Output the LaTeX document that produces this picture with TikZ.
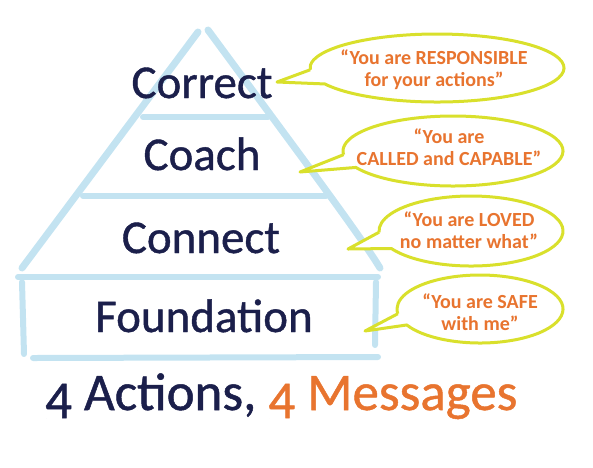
\documentclass[tikz,border=0pt]{standalone}
\usepackage{fontspec}
\setmainfont{Carlito}
\newfontfamily\labfont[FakeBold=0.9]{Carlito}
\newfontfamily\msgfont{Carlito Bold}
\newcommand{\lowfour}{\raisebox{-8pt}{4}}
\usetikzlibrary{calc}
\definecolor{pyr}{HTML}{C3E3F1}
\definecolor{navy}{HTML}{1B1F4B}
\definecolor{orng}{HTML}{E8742F}
\definecolor{bub}{HTML}{D9E02C}
\begin{document}
\begin{tikzpicture}[x=1pt,y=-1pt,
  pline/.style={draw=pyr,line width=7pt,line cap=round},
  dline/.style={draw=pyr,line width=6pt,line cap=round},
  actlabel/.style={text=navy,font=\labfont\fontsize{47}{50}\selectfont,anchor=base,inner sep=0pt},
  msg/.style={text=orng,font=\msgfont\fontsize{20}{22}\selectfont,align=center,inner sep=0pt},
  bubline/.style={draw=bub,line width=3pt,fill=white,line join=round}]
\useasboundingbox (0,0) rectangle (593,467);
% pyramid
\coordinate (apl) at (198,32);
\coordinate (apr) at (208,30);
\coordinate (bl) at (22,268);
\coordinate (br) at (380,268);
\draw[pline] (apl) -- (bl);
\draw[pline] (apr) .. controls (300,155) and (360,235) .. (br);
\coordinate (d1a) at (143,117); \coordinate (d1b) at (268,117);
\coordinate (d2a) at (83,196);  \coordinate (d2b) at (326,196);
\coordinate (d3a) at (18,277);  \coordinate (d3b) at (378,277);
\coordinate (fla) at (22,282);  \coordinate (flb) at (24,354);
\coordinate (fra) at (376,282); \coordinate (frb) at (375,345);
\coordinate (fba) at (33,358);  \coordinate (fbb) at (378,357);
\draw[dline] (d1a) -- (d1b);
\draw[dline] (d2a) -- (d2b);
\draw[dline] (d3a) -- (d3b);
\draw[dline] (fla) -- (flb);
\draw[dline] (fra) -- (frb);
\draw[dline] (fba) -- (fbb);
% action labels
\node[actlabel] (correct) at (202,98) {Correct};
\node[actlabel] (coach) at (202,170) {Coach};
\node[actlabel] (connect) at (201,253) {Connect};
\node[actlabel] (found) at (204,332) {Foundation};
% bubbles
\coordinate (t1) at (277,82);
\draw[bubline] ($(437,68)+(177:127 and 34)$) -- (t1) -- ($(437,68)+(152:127 and 34)$)
  arc[start angle=152,end angle=-183,x radius=127,y radius=34];
\coordinate (t2) at (300,172);
\draw[bubline] ($(453,151)+(174:110 and 35)$) -- (t2) -- ($(453,151)+(152:110 and 35)$)
  arc[start angle=152,end angle=-186,x radius=110,y radius=35];
\coordinate (t3) at (348,249);
\draw[bubline] ($(471,231)+(178:92 and 35)$) -- (t3) -- ($(471,231)+(150:92 and 35)$)
  arc[start angle=150,end angle=-182,x radius=92,y radius=35];
\coordinate (t4) at (365,331);
\draw[bubline] ($(480,309)+(172:83 and 34)$) -- (t4) -- ($(480,309)+(152:83 and 34)$)
  arc[start angle=152,end angle=-188,x radius=83,y radius=34];
\node[msg] (m1) at (434,70) {“You are RESPONSIBLE\\for your actions”};
\node[msg] (m2) at (449,147) {“You are\\CALLED and CAPABLE”};
\node[msg] (m3) at (469,230) {“You are LOVED\\no matter what”};
\node[msg] (m4) at (480,312) {“You are SAFE\\with me”};
% bottom title
\node[text=navy,font=\labfont\fontsize{53}{56}\selectfont,anchor=base west,inner sep=0pt] (title) at (45,410) {\lowfour{} Actions, \textcolor{orng}{\lowfour{} Messages}};
\end{tikzpicture}
\end{document}
